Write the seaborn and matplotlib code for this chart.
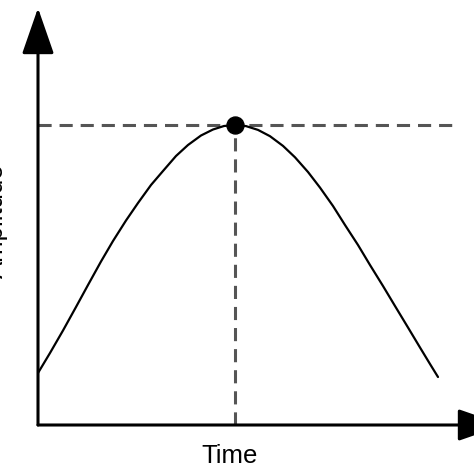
import matplotlib.pyplot as plt
import numpy as np
import pandas as pd
import seaborn as sns

# curve (x = time, y = amplitude, arbitrary units)
time = [0, 12, 25, 38, 50, 63, 75, 88, 100, 113, 125, 138, 150, 163, 175, 186, 197,
        208, 220, 232, 245, 257, 270, 282, 295, 307, 320, 332, 345, 357, 370, 382, 392, 400]
amplitude = [52, 72, 94.5, 118, 140, 163.5, 184, 204.5, 222, 240, 254, 269, 280, 289.5, 295.5, 299, 300,
             298.9, 295.1, 288.8, 279.1, 267.7, 253, 237.4, 219, 200, 180, 160, 139, 119, 97.5, 77.5, 61, 48]
peak_time = 197
peak_amp = 300

sns.set_style('white')
plt.rcParams['font.family'] = ['Liberation Sans', 'DejaVu Sans']

fig = plt.figure(figsize=(4.74, 4.74), dpi=100)
ax = fig.add_axes([38/474, 49/474, 436/474, 417/474])
ax.set_xlim(0, 436)
ax.set_ylim(0, 417)

df = pd.DataFrame({'Time': time, 'Amplitude': amplitude})

# dashed guides to the peak
guide = dict(color='#555555', lw=2.2, linestyle=(0, (4.3, 2.6)), solid_capstyle='butt')
ax.plot([0, 417], [peak_amp, peak_amp], **guide)
ax.plot([peak_time, peak_time], [0, peak_amp], **guide)

sns.lineplot(data=df, x='Time', y='Amplitude', ax=ax, color='black', lw=1.6, sort=False)
sns.scatterplot(x=[peak_time], y=[peak_amp], ax=ax, s=150, color='black', edgecolor='black', zorder=5)
ax.axis('off')

# axes with arrow heads
arr = dict(arrowstyle='-|>,head_length=1.44,head_width=0.5', mutation_scale=20,
           lw=2.2, color='black', shrinkA=0, shrinkB=0)
ax.annotate('', xy=(0, 417), xytext=(0, 0), arrowprops=arr, annotation_clip=False)
ax.annotate('', xy=(466, 0), xytext=(0, 0), arrowprops=arr, annotation_clip=False)

fig.text(230/474, 11/474, 'Time', ha='center', va='baseline', fontsize=18.5, color='black')
fig.text(8/474, (474 - 221)/474, 'Amplitude', rotation=90, ha='right', va='center',
         fontsize=18.5, color='black')

fig.savefig('out.png', dpi=100)
